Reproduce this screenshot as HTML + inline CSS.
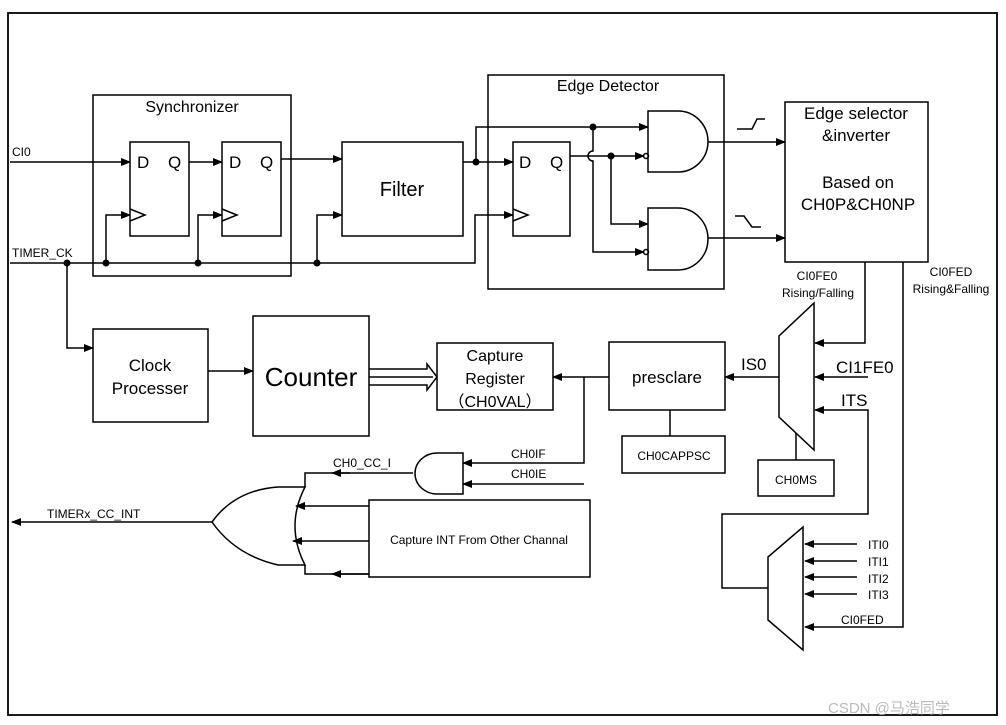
<!DOCTYPE html>
<html><head><meta charset="utf-8"><style>
html,body{margin:0;padding:0;background:#fff}
svg{display:block}
text{font-family:"Liberation Sans","Noto Sans CJK SC",sans-serif;fill:#000}
</style></head><body>
<svg width="1006" height="725" viewBox="0 0 1006 725" xmlns="http://www.w3.org/2000/svg">
<defs>
<marker id="a" markerWidth="10" markerHeight="8" refX="9" refY="4" orient="auto" markerUnits="userSpaceOnUse"><path d="M0,0 L10,4 L0,8 z" fill="#000"/></marker>
</defs>
<g fill="none" stroke="#000" stroke-width="1.5">
<rect x="8" y="13" width="989" height="702" stroke-width="1.8"/>
<rect x="93" y="95" width="198" height="181"/>
<rect x="130" y="142" width="59" height="94"/>
<rect x="222" y="142" width="59" height="94"/>
<path d="M130,209 L145,215 L130,221"/>
<path d="M222,209 L237,215 L222,221"/>
<line x1="10" y1="162" x2="130" y2="162" marker-end="url(#a)"/>
<line x1="189" y1="162" x2="222" y2="162" marker-end="url(#a)"/>
<line x1="281" y1="159" x2="342" y2="159" marker-end="url(#a)"/>
<rect x="342" y="142" width="121" height="94"/>
<polyline points="10,263 475,263 475,215 513,215" marker-end="url(#a)"/>
<polyline points="106,263 106,215 130,215" marker-end="url(#a)"/>
<polyline points="198,263 198,215 222,215" marker-end="url(#a)"/>
<polyline points="317,263 317,215 342,215" marker-end="url(#a)"/>
<rect x="488" y="75" width="236" height="214"/>
<rect x="513" y="142" width="57" height="94"/>
<path d="M513,209 L528,215 L513,221"/>
<line x1="463" y1="162" x2="513" y2="162" marker-end="url(#a)"/>
<polyline points="476,162 476,127 648,127" marker-end="url(#a)"/>
<path d="M593,127 L593,151 A5,5 0 0 0 593,161 L593,252 L644,252" marker-end="url(#a)"/>
<line x1="570" y1="156" x2="644" y2="156" marker-end="url(#a)"/>
<polyline points="611,156 611,224 648,224" marker-end="url(#a)"/>
<path d="M648,111 L678,111 A30,30.5 0 0 1 678,172 L648,172 Z"/>
<path d="M648,208 L678,208 A30,31 0 0 1 678,270 L648,270 Z"/>
<circle cx="646" cy="156" r="2.5"/>
<circle cx="646" cy="252" r="2.5"/>
<line x1="708" y1="142" x2="785" y2="142" marker-end="url(#a)"/>
<line x1="708" y1="238" x2="785" y2="238" marker-end="url(#a)"/>
<polyline points="737,129 752,129 757,119 765,119"/>
<polyline points="735,216 744,216 752,227 761,227"/>
<rect x="785" y="102" width="143" height="160"/>
<polyline points="865,262 865,343 815,343" marker-end="url(#a)"/>
<polyline points="903,262 903,627 805,627" marker-end="url(#a)"/>
<polygon points="814,303 814,450 779,417 779,336"/>
<line x1="868" y1="377" x2="815" y2="377" marker-end="url(#a)"/>
<polyline points="868,500 868,410 815,410" marker-end="url(#a)"/>
<polyline points="868,500 868,514 722,514 722,588 768,588"/>
<line x1="796" y1="433" x2="796" y2="460"/>
<rect x="758" y="460" width="76" height="36"/>
<line x1="779" y1="377" x2="725" y2="377" marker-end="url(#a)"/>
<polygon points="803,527 803,650 768,620 768,557"/>
<line x1="857" y1="544" x2="805" y2="544" marker-end="url(#a)"/>
<line x1="857" y1="561" x2="805" y2="561" marker-end="url(#a)"/>
<line x1="857" y1="577" x2="805" y2="577" marker-end="url(#a)"/>
<line x1="857" y1="594" x2="805" y2="594" marker-end="url(#a)"/>
<rect x="609" y="342" width="116" height="68"/>
<line x1="670" y1="410" x2="670" y2="436"/>
<rect x="622" y="436" width="103" height="37"/>
<line x1="609" y1="377" x2="553" y2="377" marker-end="url(#a)"/>
<polyline points="584,377 584,463 463,463" marker-end="url(#a)"/>
<line x1="584" y1="484" x2="463" y2="484" marker-end="url(#a)"/>
<rect x="437" y="343" width="116" height="67"/>
<rect x="253" y="316" width="116" height="120"/>
<path d="M369,369 L427,369 L427,364 L437,377 L427,390 L427,385 L369,385 M369,377 L433,377"/>
<rect x="93" y="329" width="115" height="93"/>
<line x1="208" y1="371" x2="253" y2="371" marker-end="url(#a)"/>
<polyline points="67,263 67,348 93,348" marker-end="url(#a)"/>
<path d="M463,453 L437,453 A22,20.5 0 0 0 437,494 L463,494 Z"/>
<polyline points="413,473 305,473 305,487"/>
<line x1="350" y1="473" x2="332" y2="473" marker-end="url(#a)"/>
<path d="M305,487 L278,487 Q235,490 212,522 Q235,555 278,565 L305,565 Q285,526 305,487 Z"/>
<polyline points="305,565 305,574 369,574"/>
<line x1="369" y1="574" x2="332" y2="574" marker-end="url(#a)"/>
<line x1="369" y1="506" x2="296" y2="506" marker-end="url(#a)"/>
<line x1="369" y1="541" x2="293" y2="541" marker-end="url(#a)"/>
<rect x="369" y="500" width="221" height="77"/>
<line x1="212" y1="522" x2="12" y2="522" marker-end="url(#a)"/>
</g>
<g fill="#000">
<circle cx="67" cy="263" r="3.5"/><circle cx="106" cy="263" r="3.5"/><circle cx="198" cy="263" r="3.5"/><circle cx="317" cy="263" r="3.5"/>
<circle cx="476" cy="162" r="3.5"/><circle cx="593" cy="127" r="3.5"/><circle cx="611" cy="156" r="3.5"/>
</g>
<g font-size="16">
<text x="192" y="112" text-anchor="middle">Synchronizer</text>
<text x="608" y="91" text-anchor="middle">Edge Detector</text>
<text x="137" y="168" font-size="17">D</text><text x="168" y="168" font-size="17">Q</text>
<text x="229" y="168" font-size="17">D</text><text x="260" y="168" font-size="17">Q</text>
<text x="519" y="168" font-size="17">D</text><text x="550" y="168" font-size="17">Q</text>
<text x="402" y="196" text-anchor="middle" font-size="20">Filter</text>
<text x="856" y="119" text-anchor="middle" font-size="17">Edge selector</text>
<text x="856" y="141" text-anchor="middle" font-size="17">&amp;inverter</text>
<text x="858" y="188" text-anchor="middle" font-size="17">Based on</text>
<text x="858" y="210" text-anchor="middle" font-size="17">CH0P&amp;CH0NP</text>
<text x="817" y="280" text-anchor="middle" font-size="12">CI0FE0</text>
<text x="818" y="297" text-anchor="middle" font-size="12">Rising/Falling</text>
<text x="951" y="276" text-anchor="middle" font-size="12">CI0FED</text>
<text x="951" y="293" text-anchor="middle" font-size="12">Rising&amp;Falling</text>
<text x="836" y="373" font-size="17">CI1FE0</text>
<text x="841" y="406" font-size="17">ITS</text>
<text x="741" y="370" font-size="17">IS0</text>
<text x="796" y="484" text-anchor="middle" font-size="12">CH0MS</text>
<text x="868" y="549" font-size="12">ITI0</text>
<text x="868" y="566" font-size="12">ITI1</text>
<text x="868" y="583" font-size="12">ITI2</text>
<text x="868" y="599" font-size="12">ITI3</text>
<text x="841" y="624" font-size="12">CI0FED</text>
<text x="667" y="383" text-anchor="middle" font-size="17">presclare</text>
<text x="674" y="460" text-anchor="middle" font-size="12">CH0CAPPSC</text>
<text x="495" y="361" text-anchor="middle" font-size="16">Capture</text>
<text x="495" y="384" text-anchor="middle" font-size="16">Register</text>
<text x="495" y="407" text-anchor="middle" font-size="16">（CH0VAL）</text>
<text x="311" y="386" text-anchor="middle" font-size="26">Counter</text>
<text x="150" y="371" text-anchor="middle" font-size="17">Clock</text>
<text x="150" y="394" text-anchor="middle" font-size="17">Processer</text>
<text x="511" y="458" font-size="12">CH0IF</text>
<text x="511" y="478" font-size="12">CH0IE</text>
<text x="333" y="467" font-size="12">CH0_CC_I</text>
<text x="47" y="518" font-size="12">TIMERx_CC_INT</text>
<text x="479" y="544" text-anchor="middle" font-size="12">Capture INT From Other Channal</text>
<text x="12" y="156" font-size="12">CI0</text>
<text x="12" y="257" font-size="12">TIMER_CK</text>
<text x="828" y="713" font-size="15" style="fill:#bbb">CSDN @马浩同学</text>
</g>
</svg>
</body></html>
